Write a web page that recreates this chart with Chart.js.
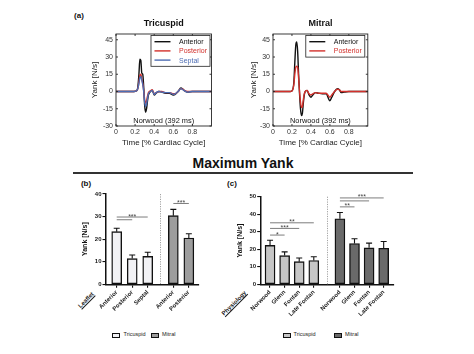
<!DOCTYPE html>
<html><head><meta charset="utf-8">
<script src="https://cdn.jsdelivr.net/npm/chart.js"></script>
<style>
html,body{margin:0;padding:0;background:#fff;}
#root{position:relative;width:474px;height:354px;overflow:hidden;background:#fff;font-family:"Liberation Sans",Arial,sans-serif;color:#111;}
#root canvas{position:absolute;}
.lbl{position:absolute;white-space:nowrap;transform:translate(-50%,-50%);line-height:1;}
.rot{position:absolute;white-space:nowrap;transform:translate(-50%,-50%) rotate(-45deg);font-weight:bold;font-size:6px;text-decoration:underline;line-height:1;color:#1a1a1a;}
.sw{position:absolute;box-sizing:border-box;width:8px;height:5px;border:1px solid #111;}
.lt{position:absolute;white-space:nowrap;font-size:5.5px;line-height:1;transform:translateY(-50%);color:#1a1a1a;}
</style></head>
<body><div id="root">
<div class="lbl" style="left:79px;top:16px;font-weight:bold;font-size:8px;">(a)</div>
<div class="lbl" style="left:86px;top:184px;font-weight:bold;font-size:8px;">(b)</div>
<div class="lbl" style="left:232px;top:184px;font-weight:bold;font-size:8px;">(c)</div>
<div class="lbl" style="left:243px;top:163px;font-weight:bold;font-size:14px;">Maximum Yank</div>
<div style="position:absolute;left:73px;top:172px;width:340px;height:1.5px;background:#333;"></div>
<div class="rot" style="left:86px;top:300px;">Leaflet</div>
<div class="rot" style="left:234px;top:303px;">Physiology</div>
<canvas id="cTri" width="140" height="152" style="left:86px;top:0px"></canvas>
<canvas id="cMit" width="140" height="152" style="left:244.5px;top:0px"></canvas>
<canvas id="cLeaf" width="130" height="150" style="left:77px;top:180px"></canvas>
<canvas id="cPhys" width="170" height="150" style="left:232px;top:180px"></canvas>
<div id="legs"></div>
</div>
<script>
const FONT = '"Liberation Sans", Arial, sans-serif';

// ---------- panel (a): yank waveforms ----------
const cycleTime   = [0,0.1,0.18,0.2,0.22,0.23,0.24,0.25,0.26,0.27,0.28,0.29,0.30,0.31,0.32,0.33,0.34,0.36,0.38,0.40,0.42,0.45,0.48,0.52,0.56,0.60,0.62,0.65,0.68,0.70,0.72,0.75,0.80,0.90,1.0];
const triAnterior = [0,0,0,0.2,1,5,15,28,27,16,15,4,-12,-18,-15,-8,-3,0,1,-3,-1.5,0,-0.5,-1.5,-1.5,-3,-2.5,0,3,2,0.5,-0.5,0,0,0];
const triPosterior= [0,0,0,0.2,1,3,8,14,15,11,7,1,-7,-10,-8,-4,-1,0.5,1.5,-2,-1,0,0,-1,-1,-2,-2,0,2.5,2,0.5,0,0,0,0];
const triSeptal   = [0,0,0,0.2,1,3,7,12,13,10,6,0,-9,-13,-11,-6,-2,0,1,-2.5,-1,0,-0.5,-1,-1,-2.5,-2,0,2.5,1.5,0.5,-0.5,0,0,0];
const mitAnterior = [0,0,0,0.5,8,25,40,43,35,15,-2,-15,-21,-19,-10,-3,0,1,-3,-5,-3,-1,-1.5,-2,-2,-8,-5,0,2.5,1.5,-1,-0.5,0,0,0];
const mitPosterior= [0,0,0,0.5,6,15,21,22,21,12,0,-9,-14,-13,-7,-2,0,1,-2,-3,-2,-1,-1.5,-1.5,-1.5,-5,-3,0,2,1.5,0,0,0,0,0];
const waveXTicks = [0,0.2,0.4,0.6,0.8];
const waveYTicks = [-30,-15,0,15,30,45];
const waveNote = 'Norwood (392 ms)';

// ---------- panel (b): by leaflet ----------
const leafletTri = ['Anterior','Posterior','Septal'];
const leafletMit = ['Anterior','Posterior'];
const leafTriMean = [23.3, 11.4, 12.4];
const leafTriErr  = [1.5, 1.6, 1.8];
const leafMitMean = [30.4, 20.5];
const leafMitErr  = [2.8, 1.9];
const leafTicks = [0,10,20,30,40];
const leafBrFrom = [0,0,3], leafBrTo = [1,2,4], leafBrY = [28.6,29.8,35.8], leafBrLab = ['','***','***'];

// ---------- panel (c): by physiology ----------
const physLabels = ['Norwood','Glenn','Fontan','Late Fontan'];
const physTriMean = [22.2, 16.4, 12.9, 13.6];
const physTriErr  = [2.9, 2.1, 2.1, 2.1];
const physMitMean = [37.4, 23.3, 20.8, 20.6];
const physMitErr  = [3.6, 2.7, 2.7, 3.8];
const physTicks = [0,10,20,30,40,50];
const physBrFrom = [0,0,0,4,4,4], physBrTo = [1,2,3,5,6,7], physBrY = [28.1,31.9,35.1,44.2,47.6,49.3], physBrLab = ['*','***','**','**','','***'];

const C_ANT = '#111111', C_POST = '#d2302b', C_SEPT = '#4d6db3';
const C_B_TRI = '#f2f2f5', C_B_MIT = '#9d9d9d', C_C_TRI = '#c6c6c6', C_C_MIT = '#6a6a6a';

const waveDeco = {
  id:'waveDeco',
  afterDatasetsDraw(chart, args, o){
    const {ctx, chartArea:a, scales:{x,y}} = chart;
    ctx.save();
    ctx.strokeStyle='#262626'; ctx.lineWidth=0.9;
    ctx.strokeRect(a.left, a.top, a.right-a.left, a.bottom-a.top);
    ctx.beginPath();
    x.ticks.forEach(t=>{const p=x.getPixelForValue(t.value); ctx.moveTo(p,a.bottom); ctx.lineTo(p,a.bottom-2); ctx.moveTo(p,a.top); ctx.lineTo(p,a.top+2);});
    y.ticks.forEach(t=>{const p=y.getPixelForValue(t.value); ctx.moveTo(a.left,p); ctx.lineTo(a.left+2,p); ctx.moveTo(a.right,p); ctx.lineTo(a.right-2,p);});
    ctx.stroke();
    ctx.fillStyle='#111'; ctx.textAlign='center'; ctx.textBaseline='middle';
    ctx.font='bold 9px '+FONT;
    ctx.fillText(o.title,(a.left+a.right)/2,o.titleY);
    ctx.font='7.4px '+FONT; ctx.textBaseline='alphabetic';
    ctx.fillText(o.note,(a.left+a.right)/2,a.bottom-3);
    // legend
    const ds = chart.data.datasets;
    ctx.font='7px '+FONT;
    let mw = 0; ds.forEach(d=>{mw=Math.max(mw,ctx.measureText(d.label).width);});
    const w = 28+mw+3, h = ds.length*9.2+3.2;
    const L = a.right-o.inset-w, T = a.top+1.5;
    ctx.fillStyle='#fff'; ctx.fillRect(L,T,w,h);
    ctx.strokeStyle='#222'; ctx.lineWidth=0.8; ctx.strokeRect(L,T,w,h);
    ctx.textAlign='left'; ctx.textBaseline='middle';
    ds.forEach((d,i)=>{
      const cy = T+6.2+i*9.2;
      ctx.strokeStyle=d.borderColor; ctx.lineWidth=1.4;
      ctx.beginPath(); ctx.moveTo(L+3.5,cy); ctx.lineTo(L+19.5,cy); ctx.stroke();
      ctx.fillStyle=d.borderColor; ctx.fillText(d.label,L+28,cy+0.5);
    });
    ctx.restore();
  }
};

function makeWave(id, title, series, names, colors, yw, padR, inset){
  return new Chart(document.getElementById(id), {
    type:'line',
    data:{datasets: series.map((s,i)=>({label:names[i], data: cycleTime.map((t,j)=>({x:t,y:s[j]})), borderColor:colors[i], borderWidth:1.4, pointRadius:0, cubicInterpolationMode:'monotone', fill:false, order:series.length-i}))},
    options:{
      responsive:false, animation:false, devicePixelRatio:1,
      layout:{padding:{top:34,right:padR,left:0,bottom:0}},
      plugins:{legend:{display:false}, tooltip:{enabled:false}, waveDeco:{title:title, titleY:24, note:waveNote, inset:inset}},
      scales:{
        x:{type:'linear', min:0, max:1,
           afterBuildTicks:s=>{s.ticks=waveXTicks.map(v=>({value:v}));},
           afterFit:s=>{s.height=26;},
           ticks:{padding:1.5, font:{family:FONT,size:7}, color:'#333', callback:v=>String(v)},
           grid:{display:false, drawTicks:false, tickLength:0}, border:{display:false},
           title:{display:true, text:'Time [% Cardiac Cycle]', font:{family:FONT,size:8}, color:'#222', padding:{top:0,bottom:4}}},
        y:{type:'linear', min:-30, max:50,
           afterBuildTicks:s=>{s.ticks=waveYTicks.map(v=>({value:v}));},
           afterFit:s=>{s.width=yw;},
           ticks:{padding:3, font:{family:FONT,size:7}, color:'#333', callback:v=>String(v)},
           grid:{display:false, drawTicks:false, tickLength:0}, border:{display:false},
           title:{display:true, text:'Yank [N/s]', font:{family:FONT,size:8}, color:'#222', padding:{top:4,bottom:0}}}
      }
    },
    plugins:[waveDeco]
  });
}

makeWave('cTri','Tricuspid',[triAnterior,triPosterior,triSeptal],['Anterior','Posterior','Septal'],[C_ANT,C_POST,C_SEPT],30,14.5,1.5);
makeWave('cMit','Mitral',[mitAnterior,mitPosterior],['Anterior','Posterior'],[C_ANT,C_POST],28,17.2,3);

const barDeco = {
  id:'barDeco',
  afterDatasetsDraw(chart, args, o){
    const {ctx, chartArea:a, scales:{x,y}} = chart;
    ctx.save();
    ctx.strokeStyle='#8a8a8a'; ctx.lineWidth=0.8; ctx.setLineDash([1.2,1.2]);
    const dx = Math.round(x.getPixelForValue(o.divider))+0.5;
    ctx.beginPath(); ctx.moveTo(dx,a.top); ctx.lineTo(dx,a.bottom); ctx.stroke();
    ctx.setLineDash([]);
    ctx.strokeStyle='#111'; ctx.lineWidth=1.1;
    chart.data.datasets.forEach(ds=>{
      ds.data.forEach((p,i)=>{
        const px=x.getPixelForValue(p.x), y0=y.getPixelForValue(p.y), y1=y.getPixelForValue(p.y+ds.errors[i]);
        ctx.beginPath(); ctx.moveTo(px,y0); ctx.lineTo(px,y1); ctx.moveTo(px-3,y1); ctx.lineTo(px+3,y1); ctx.stroke();
      });
    });
    ctx.strokeStyle='#7d7d7d'; ctx.lineWidth=1; ctx.fillStyle='#444';
    ctx.font='7px '+FONT; ctx.textAlign='center'; ctx.textBaseline='alphabetic';
    o.from.forEach((f,i)=>{
      const x0=x.getPixelForValue(o.pos[f]), x1=x.getPixelForValue(o.pos[o.to[i]]), yy=y.getPixelForValue(o.yv[i]);
      ctx.beginPath(); ctx.moveTo(x0,yy); ctx.lineTo(x1,yy); ctx.stroke();
      if(o.lab[i]) ctx.fillText(o.lab[i],(x0+x1)/2,yy+1.5);
    });
    ctx.restore();
  }
};

function makeBars(id, o){
  const triPos = o.triLabels.map((_,i)=>i);
  const mitPos = o.mitLabels.map((_,i)=>o.mitStart+i);
  const allPos = triPos.concat(mitPos);
  const allLabels = o.triLabels.concat(o.mitLabels);
  const tickFont = {family:FONT,size:6,weight:'bold'};
  return new Chart(document.getElementById(id), {
    type:'bar',
    data:{datasets:[
      {label:'Tricuspid', data:triPos.map((p,i)=>({x:p,y:o.triMean[i]})), errors:o.triErr, backgroundColor:o.triColor, borderColor:'#111', borderWidth:1.4, borderSkipped:false, barThickness:10, grouped:false},
      {label:'Mitral', data:mitPos.map((p,i)=>({x:p,y:o.mitMean[i]})), errors:o.mitErr, backgroundColor:o.mitColor, borderColor:'#111', borderWidth:1.4, borderSkipped:false, barThickness:10, grouped:false}
    ]},
    options:{
      responsive:false, animation:false, devicePixelRatio:1,
      layout:{padding:{top:o.padTop,right:o.padRight,left:0,bottom:0}},
      plugins:{legend:{display:false}, tooltip:{enabled:false},
        barDeco:{divider:o.divider, pos:allPos, from:o.brFrom, to:o.brTo, yv:o.brY, lab:o.brLab}},
      scales:{
        x:{type:'linear', min:o.xMin, max:o.xMax, offset:false,
           afterBuildTicks:s=>{s.ticks=allPos.map(v=>({value:v}));},
           afterFit:s=>{s.height=o.xAxisH;},
           ticks:{autoSkip:false, minRotation:45, maxRotation:45, padding:1, font:tickFont, color:'#1a1a1a', callback:(v,i)=>allLabels[i]},
           grid:{display:true, drawOnChartArea:false, drawTicks:true, tickLength:3.5, color:'#111', lineWidth:1.1, offset:false},
           border:{display:true, color:'#111', width:1.5}},
        y:{type:'linear', min:0, max:o.yMax,
           afterBuildTicks:s=>{s.ticks=o.yTicks.map(v=>({value:v}));},
           afterFit:s=>{s.width=o.yAxisW;},
           ticks:{padding:1, font:tickFont, color:'#1a1a1a'},
           grid:{display:true, drawOnChartArea:false, drawTicks:true, tickLength:3.5, color:'#111', lineWidth:1.1},
           border:{display:true, color:'#111', width:1.5},
           title:{display:true, text:'Yank [N/s]', font:{family:FONT,size:7,weight:'bold'}, color:'#111', padding:{top:4,bottom:0}}}
      }
    },
    plugins:[barDeco]
  });
}

makeBars('cLeaf',{triLabels:leafletTri, mitLabels:leafletMit, triMean:leafTriMean, triErr:leafTriErr, mitMean:leafMitMean, mitErr:leafMitErr,
  triColor:C_B_TRI, mitColor:C_B_MIT, mitStart:3.65, xMin:-0.69, xMax:5.26, divider:2.79, yMax:40, yTicks:leafTicks,
  padTop:14, padRight:8.7, xAxisH:45.7, yAxisW:29, brFrom:leafBrFrom, brTo:leafBrTo, brY:leafBrY, brLab:leafBrLab});
makeBars('cPhys',{triLabels:physLabels, mitLabels:physLabels, triMean:physTriMean, triErr:physTriErr, mitMean:physMitMean, mitErr:physMitErr,
  triColor:C_C_TRI, mitColor:C_C_MIT, mitStart:4.79, xMin:-0.64, xMax:8.45, divider:3.92, yMax:50, yTicks:physTicks,
  padTop:16.7, padRight:8.7, xAxisH:45.7, yAxisW:28.7, brFrom:physBrFrom, brTo:physBrTo, brY:physBrY, brLab:physBrLab});

// legends for (b) and (c)
const legs = document.getElementById('legs');
function addLeg(x, txt, color, tx){
  const s=document.createElement('div'); s.className='sw'; s.style.left=x+'px'; s.style.top='332.5px'; s.style.background=color; legs.appendChild(s);
  const t=document.createElement('div'); t.className='lt'; t.style.left=tx+'px'; t.style.top='335px'; t.textContent=txt; legs.appendChild(t);
}
addLeg(112,'Tricuspid',C_B_TRI,123.5); addLeg(151,'Mitral',C_B_MIT,162);
addLeg(283,'Tricuspid',C_C_TRI,293.5); addLeg(334,'Mitral',C_C_MIT,345);
</script>
</body></html>
